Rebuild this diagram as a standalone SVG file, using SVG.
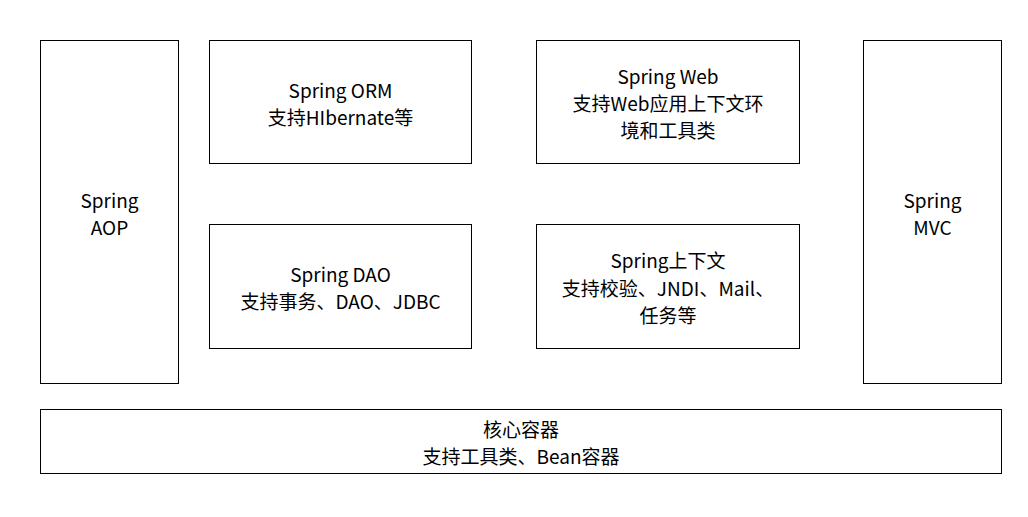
<svg xmlns="http://www.w3.org/2000/svg" width="1028" height="517" viewBox="0 0 1028 517">
<style>
rect{fill:#fff;stroke:#000;stroke-width:1}
text{font-family:"Noto Sans CJK SC","Noto Sans",sans-serif;font-size:19px;fill:#000;text-anchor:middle;dominant-baseline:central}
</style>
<rect x="0" y="0" width="1028" height="517" style="stroke:none"/>
<g id="aop"><rect x="40.5" y="40.5" width="138" height="343"/><text x="109.5" y="199">Spring</text><text x="109.5" y="226">AOP</text></g>
<g id="orm"><rect x="209.5" y="40.5" width="262" height="123"/><text x="340.5" y="89">Spring ORM</text><text x="340.5" y="116">支持HIbernate等</text></g>
<g id="web"><rect x="536.5" y="40.5" width="263" height="123"/><text x="668" y="75">Spring Web</text><text x="668" y="102">支持Web应用上下文环</text><text x="668" y="129">境和工具类</text></g>
<g id="mvc"><rect x="863.5" y="40.5" width="138" height="343"/><text x="932.5" y="199">Spring</text><text x="932.5" y="226">MVC</text></g>
<g id="dao"><rect x="209.5" y="224.5" width="262" height="124"/><text x="340.5" y="273">Spring DAO</text><text x="340.5" y="300">支持事务、DAO、JDBC</text></g>
<g id="ctx"><rect x="536.5" y="224.5" width="263" height="124"/><text x="668" y="259">Spring上下文</text><text x="668" y="287">支持校验、JNDI、Mail、</text><text x="668" y="314">任务等</text></g>
<g id="core"><rect x="40.5" y="409.5" width="961" height="64"/><text x="521" y="428">核心容器</text><text x="521" y="455">支持工具类、Bean容器</text></g>
<g id="connectors"></g>
</svg>
